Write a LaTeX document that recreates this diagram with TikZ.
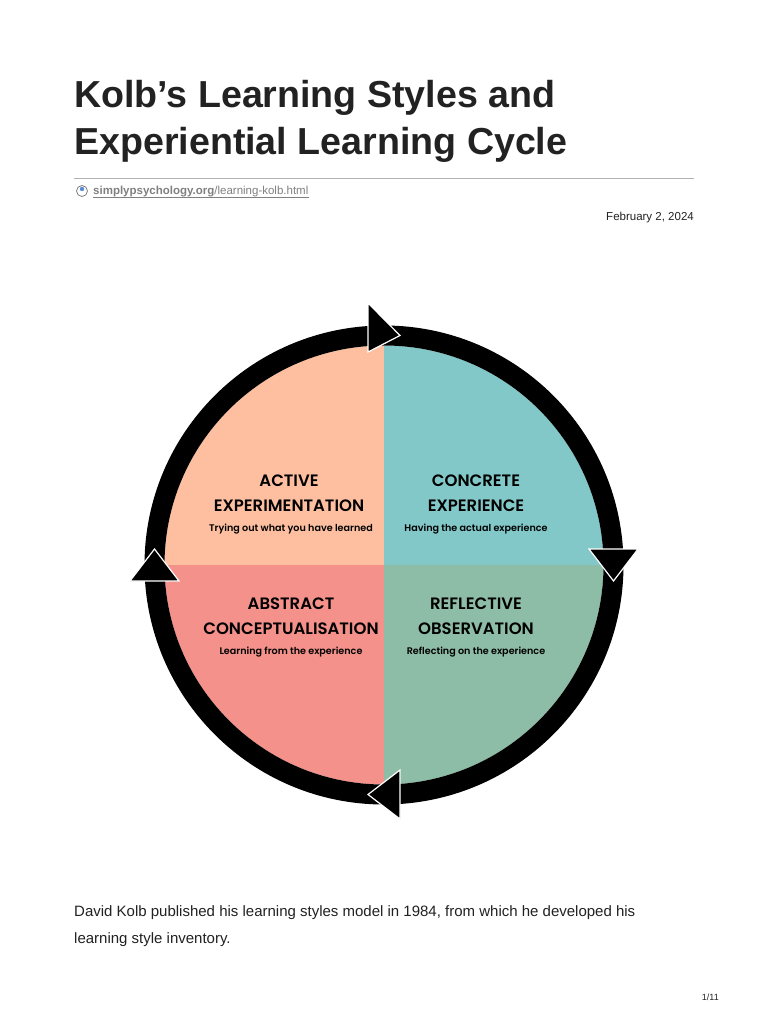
\documentclass[tikz,border=0pt]{standalone}
\usepackage{fontspec}
\setmainfont{Liberation Sans}
\newfontfamily\pop{Poppins}[FontFace={sb}{n}{Poppins SemiBold}]
\usetikzlibrary{calc}
\definecolor{peach}{HTML}{FDBF9F}
\definecolor{teal}{HTML}{82C8C8}
\definecolor{salmon}{HTML}{F4918A}
\definecolor{sage}{HTML}{8DBDA6}
\definecolor{txt}{HTML}{222222}
\tikzset{
 head/.style={font=\pop\fontseries{sb}\fontsize{16.5}{25}\selectfont, text=black, align=center},
 sub/.style={font=\pop\fontseries{sb}\fontsize{9.6}{11}\selectfont, text=black},
 arr/.style={fill=black, draw=white, line width=1.2pt, line join=miter},
 body/.style={font=\fontsize{15}{18}\selectfont, text=txt, anchor=base west, inner sep=0}
}
\begin{document}
\begin{tikzpicture}[x=1pt,y=-1pt]
\useasboundingbox (0,0) rectangle (768,1024);
\fill[white] (0,0) rectangle (768,1024);
% title
\node[anchor=base west, inner sep=0, font=\bfseries\fontsize{37.6}{44}\selectfont, text=txt] (t1) at (74,108) {Kolb’s Learning Styles and};
\node[anchor=base west, inner sep=0, font=\bfseries\fontsize{37.6}{44}\selectfont, text=txt] (t2) at (74,155) {Experiential Learning Cycle};
\draw[gray!60, line width=0.8pt] (74,178) -- (694,178);
\node[anchor=center, draw=gray, circle, inner sep=0, minimum size=11pt, line width=0.8pt] (ic) at (82,191) {};
\fill[teal!70!blue] (82,189) circle (2.2pt);
\node[anchor=base west, inner sep=0, font=\fontsize{11.5}{13}\selectfont, text=gray] (lk) at (93,195) {\textbf{simplypsychology.org}/learning-kolb.html};
\draw[gray, line width=0.6pt] (lk.base west) ++(0,2) -- ($(lk.base east)+(0,2)$);
\node[anchor=base east, inner sep=0, font=\fontsize{11.5}{13}\selectfont, text=txt] (dt) at (694,221) {February 2, 2024};
% quadrants
\coordinate (c) at (384,565);
\begin{scope}
\clip (c) circle (219.5pt);
\fill[peach] (c) rectangle (160,340);
\fill[teal] (c) rectangle (610,340);
\fill[sage] (c) rectangle (610,790);
\fill[salmon] (c) rectangle (160,790);
\end{scope}
\draw[black, line width=20pt] (c) circle (229.5pt);
% arrowheads
\draw[arr] (400,335.5) -- (368,303) -- (368,352) -- cycle;
\draw[arr] (613.5,581) -- (589,549) -- (638,549) -- cycle;
\draw[arr] (368,794.5) -- (400,770) -- (400,819) -- cycle;
\draw[arr] (154.5,549) -- (130,581) -- (179,581) -- cycle;
% texts
\node[head] (ae) at (289,493) {ACTIVE\\EXPERIMENTATION};
\node[sub] (aes) at (291,529) {Trying out what you have learned};
\node[head] (ce) at (476,493) {CONCRETE\\EXPERIENCE};
\node[sub] (ces) at (476,529) {Having the actual experience};
\node[head] (ac) at (291,616) {ABSTRACT\\CONCEPTUALISATION};
\node[sub] (acs) at (291,652) {Learning from the experience};
\node[head] (ro) at (476,616) {REFLECTIVE\\OBSERVATION};
\node[sub] (ros) at (476,652) {Reflecting on the experience};
% body
\node[body] (p1) at (74,916) {David Kolb published his learning styles model in 1984, from which he developed his};
\node[body] (p2) at (74,943) {learning style inventory.};
\node[anchor=base east, inner sep=0, font=\fontsize{9}{10}\selectfont, text=txt] (pg) at (719,1000) {1/11};
\end{tikzpicture}
\end{document}
